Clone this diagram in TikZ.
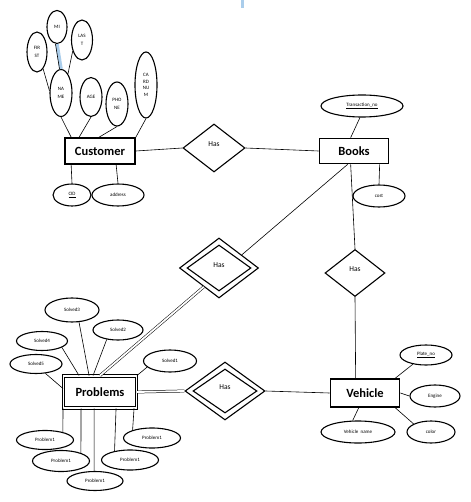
\documentclass[tikz,border=0pt]{standalone}
\usepackage{fontspec}
\setmainfont{Carlito}
\usetikzlibrary{shapes.geometric,calc}
\definecolor{hlblue}{RGB}{170,205,235}
\begin{document}
\begin{tikzpicture}[x=1pt,y=-1pt,
  entity/.style={draw,rectangle,line width=1.7pt,inner sep=0pt,font=\bfseries\fontsize{12.5}{13}\selectfont},
  attr/.style={draw,ellipse,line width=1.1pt,inner sep=0pt,align=center,font=\fontsize{5}{5.5}\selectfont},
  rel/.style={draw,diamond,line width=1.1pt,inner sep=0pt,font=\fontsize{7.5}{8}\selectfont},
  conn/.style={line width=0.6pt},
  dbl/.style={double,double distance=1.8pt,line width=0.5pt}]
\useasboundingbox (0,0) rectangle (470,502);
\fill[white] (0,0) rectangle (470,502);
\fill[hlblue] (241,0) rectangle (244,8);

% entities
\node[entity,minimum width=70pt,minimum height=26pt] (cust) at (100,151) {Customer};
\node[entity,minimum width=69pt,minimum height=25pt] (books) at (354,151) {Books};
\node[entity,minimum width=69pt,minimum height=28pt] (veh) at (365,393) {Vehicle};
\node[draw,rectangle,line width=0.9pt,double,double distance=1.6pt,inner sep=0pt,minimum width=73pt,minimum height=32pt,font=\bfseries\fontsize{12.5}{13}\selectfont] (prob) at (100,392) {Problems};

% relationships
\node[rel,minimum width=62pt,minimum height=48pt] (hast) at (214,148) {};
\node[font=\fontsize{7.5}{8}\selectfont] (hastl) at (214,144) {Has};
\node[rel,minimum width=60pt,minimum height=47pt] (hasr) at (355,273) {};
\node[font=\fontsize{7.5}{8}\selectfont] (hasrl) at (355,269) {Has};
\node[rel,minimum width=79pt,minimum height=60pt] (hasd) at (219,268) {};
\node[rel,minimum width=64pt,minimum height=46pt] (hasdi) at (219,268) {};
\node[font=\fontsize{7.5}{8}\selectfont] (hasdl) at (219,265) {Has};
\node[rel,minimum width=80pt,minimum height=58pt] (hasb) at (225,391) {};
\node[rel,minimum width=64pt,minimum height=44pt] (hasbi) at (225,391) {};
\node[font=\fontsize{7.5}{8}\selectfont] (hasbl) at (225,387) {Has};

% customer attributes
\node[attr,minimum width=22pt,minimum height=47pt] (name) at (61,93) {NA\\[2pt]ME};
\node[attr,minimum width=20pt,minimum height=40pt] (first) at (37,52) {FIR\\[2pt]ST};
\node[attr,minimum width=20pt,minimum height=33pt] (mi) at (57,27) {MI};
\node[attr,minimum width=21pt,minimum height=40pt] (last) at (82,40) {LAS\\[2pt]T};
\node[attr,minimum width=22pt,minimum height=39pt] (age) at (91,97) {AGE};
\node[attr,minimum width=22pt,minimum height=44pt] (phone) at (117,104) {PHO\\[2pt]NE};
\node[attr,minimum width=22pt,minimum height=66pt] (card) at (146,85) {CA\\[1pt]RD\\[1pt]NU\\[1pt]M};
\node[attr,minimum width=38pt,minimum height=22pt] (cid) at (72,195) {\underline{CID}};
\node[attr,minimum width=52pt,minimum height=22pt] (addr) at (118,195) {address};

% books attributes
\node[attr,minimum width=82pt,minimum height=22pt] (trans) at (362,106) {\underline{Transaction\_no}};
\node[attr,minimum width=52pt,minimum height=22pt] (cost) at (379,196) {cost};

% vehicle attributes
\node[attr,minimum width=52pt,minimum height=20pt] (plate) at (426,355) {\underline{Plate\_no}};
\node[attr,minimum width=50pt,minimum height=22pt] (engine) at (435,396) {Engine};
\node[attr,minimum width=48pt,minimum height=22pt] (color) at (431,432) {color};
\node[attr,minimum width=74pt,minimum height=22pt] (vname) at (358,432) {Vehicle\ \ name};

% problems attributes
\node[attr,minimum width=54pt,minimum height=24pt] (s3) at (72,310) {Solved3};
\node[attr,minimum width=50pt,minimum height=20pt] (s2) at (118,330) {Solved2};
\node[attr,minimum width=51pt,minimum height=19pt] (s4) at (42,341) {Solved4};
\node[attr,minimum width=52pt,minimum height=19pt] (s5) at (36,364) {Solved5};
\node[attr,minimum width=53pt,minimum height=22pt] (s1) at (170,361) {Solved1};
\node[attr,minimum width=57pt,minimum height=19pt] (p1) at (45,440) {Problem1};
\node[attr,minimum width=57pt,minimum height=21pt] (p2) at (61,461) {Problem1};
\node[attr,minimum width=56pt,minimum height=19pt] (p3) at (95,481) {Problem1};
\node[attr,minimum width=57pt,minimum height=20pt] (p4) at (130,460) {Problem1};
\node[attr,minimum width=57pt,minimum height=20pt] (p5) at (152,438) {Problem1};

% relationship connectors
\draw[conn] (cust.east) -- (hast.west);
\draw[conn] (hast.east) -- (books.west);
\draw[conn] ($(books.south west)+(32,0)$) -- (hasr.north);
\draw[conn] (hasr.south) -- ($(veh.north west)+(26,0)$);
\draw[conn] ($(books.south west)+(29,0)$) -- (hasd.30);
\draw[dbl] (hasd.231) -- (prob.north);
\draw[dbl] (prob.east) -- (hasb.west);
\draw[conn] (hasb.east) -- (veh.west);

% customer attribute connectors
\draw[line width=3.5pt,hlblue] (mi.south) -- (name.north);
\draw[conn] ($(mi.south)+(-1.5,0)$) -- ($(name.north)+(-1.5,0)$);
\draw[conn] (first.-70) -- (name.170);
\draw[conn] (last.230) -- (name.70);
\draw[conn] (name.south) -- ($(cust.north west)+(7,0)$);
\draw[conn] (age.south) -- ($(cust.north west)+(15,0)$);
\draw[conn] (phone.south) -- ($(cust.north west)+(35,0)$);
\draw[conn] (card.south) -- (cust.north east);
\draw[conn] ($(cust.south west)+(7,0)$) -- (cid.north);
\draw[conn] ($(cust.south west)+(52,0)$) -- (addr.north);

% books attribute connectors
\draw[conn] (trans.-100) -- ($(books.north west)+(32,0)$);
\draw[conn] ($(books.south west)+(61,0)$) -- (cost.north);

% vehicle attribute connectors
\draw[conn] ($(veh.north east)+(-5,0)$) -- (plate.215);
\draw[conn] (veh.east) -- (engine.west);
\draw[conn] ($(veh.south east)+(-5,0)$) -- (color.155);
\draw[conn] ($(veh.south west)+(29,0)$) -- (vname.115);

% problems attribute connectors
\draw[conn] (s3.-60) -- ($(prob.north west)+(26,0)$);
\draw[conn] (s2.-140) -- ($(prob.north west)+(30,0)$);
\draw[conn] (s4.-18) -- ($(prob.north west)+(16,0)$);
\draw[conn] (s5.-45) -- ($(prob.north west)+(0,13)$);
\draw[conn] (s1.-165) -- (prob.north east);
\draw[conn] (prob.south west) -- (p1.24);
\draw[conn] ($(prob.south west)+(18,0)$) -- (p2.22);
\draw[conn] ($(prob.south west)+(31,0)$) -- (p3.95);
\draw[conn] ($(prob.south west)+(53,0)$) -- (p4.150);
\draw[conn] ($(prob.south west)+(71,0)$) -- (p5.158);
\end{tikzpicture}
\end{document}
